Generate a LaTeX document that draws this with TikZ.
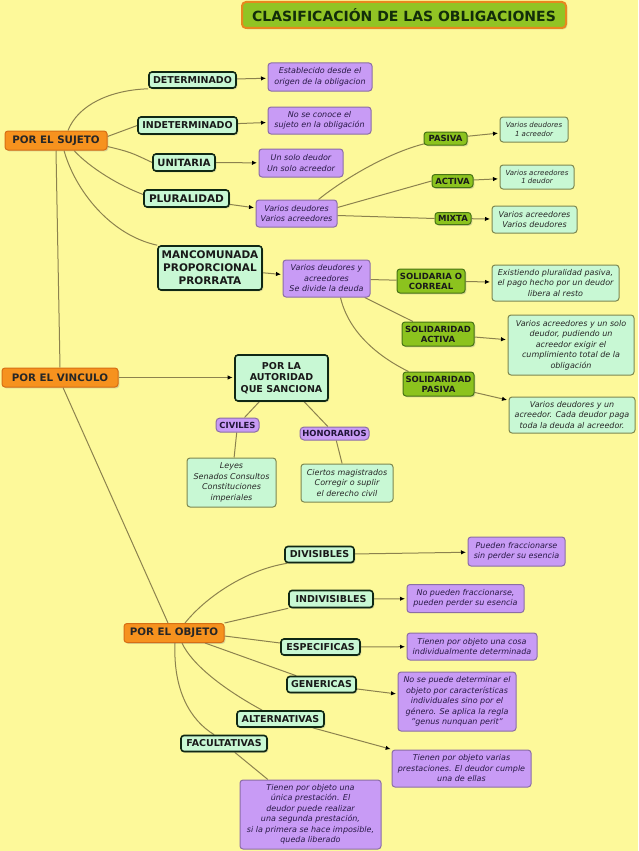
\documentclass[tikz,border=0pt]{standalone}
\usepackage{fontspec}
\setmainfont{DejaVu Sans}
\usetikzlibrary{arrows.meta,calc,shadows}
\definecolor{bgY}{RGB}{253,249,154}
\definecolor{orF}{RGB}{246,146,30}
\definecolor{orD}{RGB}{214,110,20}
\definecolor{mint}{RGB}{200,248,212}
\definecolor{darkL}{RGB}{16,40,20}
\definecolor{grF}{RGB}{140,195,30}
\definecolor{grD}{RGB}{70,115,20}
\definecolor{puF}{RGB}{200,155,245}
\definecolor{puD}{RGB}{140,110,165}
\definecolor{puT}{RGB}{40,25,70}
\definecolor{olD}{RGB}{125,135,80}
\definecolor{lnk}{RGB}{140,130,78}
\definecolor{tiF}{RGB}{145,196,36}
\definecolor{tiD}{RGB}{232,135,30}
\definecolor{tiT}{RGB}{18,45,10}
\pgfdeclarelayer{bglayer}
\pgfdeclarelayer{linklayer}
\pgfsetlayers{bglayer,linklayer,main}
\tikzset{
  sz/.style 2 args={minimum width=#1pt,minimum height=#2pt},
  basebox/.style={rounded corners=3pt, align=center, inner sep=1pt},
  shad/.style={drop shadow={shadow xshift=1.3pt,shadow yshift=-1.3pt,opacity=.3}},
  titlebox/.style={basebox, rounded corners=4pt, fill=tiF, draw=tiD, line width=2pt, text=tiT,
    font=\bfseries\fontsize{14}{16}\selectfont, shad},
  orangebox/.style={basebox, fill=orF, draw=orD, line width=1pt, text=black!85,
    font=\bfseries\fontsize{10.3}{12}\selectfont, shad},
  conc/.style={basebox, fill=mint, draw=darkL, line width=1.6pt, text=black!90,
    font=\bfseries\fontsize{9.5}{11.5}\selectfont, shad},
  grn/.style={basebox, fill=grF, draw=grD, line width=1pt, text=black!90,
    font=\bfseries\fontsize{8.5}{10}\selectfont, shad},
  purp/.style={basebox, fill=puF, draw=puD, line width=1pt, text=puT,
    font=\itshape\fontsize{8}{10.5}\selectfont},
  res/.style={basebox, fill=mint, draw=olD, line width=1pt, text=black!85,
    font=\itshape\fontsize{8}{10.5}\selectfont},
  ressmall/.style={res, font=\itshape\fontsize{7}{8.5}\selectfont},
  plab/.style={basebox, rounded corners=4pt, fill=puF, draw=puD, line width=1pt, text=puT!80!black,
    font=\bfseries\fontsize{8.4}{10}\selectfont},
  link/.style={draw=lnk, line width=1pt},
  arr/.style={link, -{Latex[length=5pt,width=4.5pt,color=black]}, shorten >=1.5pt},
}
\begin{document}
\begin{tikzpicture}[x=1pt,y=-1pt]
\begin{pgfonlayer}{bglayer}
\fill[bgY] (0,0) rectangle (638,851);
\end{pgfonlayer}
\useasboundingbox (0,0) rectangle (638,851);

% title
\node[titlebox, sz={324}{26}] (title) at (404,15) {CLASIFICACIÓN DE LAS OBLIGACIONES};

% main branches
\node[orangebox, sz={102}{19}] (suj) at (56,140.5) {POR EL SUJETO};
\node[orangebox, sz={116}{19}] (vin) at (60,377.5) {POR EL VINCULO};
\node[orangebox, sz={100}{19}] (obj) at (174,633) {POR EL OBJETO};

% sujeto
\node[conc, sz={87}{16}] (det) at (192.5,80) {DETERMINADO};
\node[purp, sz={104}{28}] (estab) at (320,77) {Establecido desde el\\origen de la obligacion};
\node[conc, sz={99}{17}] (indet) at (187.5,125.5) {INDETERMINADO};
\node[purp, sz={103}{27}] (nocon) at (319.5,120.5) {No se conoce el\\sujeto en la obligación};
\node[conc, sz={62}{17}, font=\bfseries\fontsize{10}{12}\selectfont] (unit) at (184,162.5) {UNITARIA};
\node[purp, sz={84}{28}] (unsolo) at (301,163) {Un solo deudor\\Un solo acreedor};
\node[conc, sz={85}{17}, font=\bfseries\fontsize{10.5}{12}\selectfont] (plur) at (186.5,198.5) {PLURALIDAD};
\node[purp, sz={81}{27}] (varios) at (296.5,213.5) {Varios deudores\\Varios acreedores};
\node[grn, sz={43}{13}] (pas) at (445.5,138.5) {PASIVA};
\node[ressmall, sz={68}{25}] (rpas) at (534,129.5) {Varios deudores\\1 acreedor};
\node[grn, sz={41}{13}] (act) at (452.5,181) {ACTIVA};
\node[ressmall, sz={74}{24}] (ract) at (537,177) {Varios acreedores\\1 deudor};
\node[grn, sz={36}{12}] (mix) at (453,218.5) {MIXTA};
\node[res, sz={85}{27}] (rmix) at (534.5,219.5) {Varios acreedores\\Varios deudores};
\node[conc, sz={104}{44}, font=\bfseries\fontsize{10.5}{13}\selectfont] (manc) at (210,268) {MANCOMUNADA\\PROPORCIONAL\\PRORRATA};
\node[purp, sz={87}{37}] (vdy) at (326.5,278.5) {Varios deudores y\\acreedores\\Se divide la deuda};
\node[grn, sz={68}{24}] (corr) at (431,281) {SOLIDARIA O\\CORREAL};
\node[res, sz={127}{36}] (exis) at (555.5,283) {Existiendo pluralidad pasiva,\\el pago hecho por un deudor\\libera al resto};
\node[grn, sz={72}{24}] (sact) at (438,334) {SOLIDARIDAD\\ACTIVA};
\node[res, sz={126}{60}] (vacre) at (571,345) {Varios acreedores y un solo\\deudor, pudiendo un\\acreedor exigir el\\cumplimiento total de la\\obligación};
\node[grn, sz={71}{24}] (spas) at (438.5,384) {SOLIDARIDAD\\PASIVA};
\node[res, sz={126}{36}] (vdeu) at (572,415) {Varios deudores y un\\acreedor. Cada deudor paga\\toda la deuda al acreedor.};

% vinculo
\node[conc, sz={93}{46}] (aut) at (281.5,378) {POR LA\\AUTORIDAD\\QUE SANCIONA};
\node[plab, sz={43}{14}] (civ) at (237.5,425) {CIVILES};
\node[plab, sz={69}{13}] (hon) at (334.5,433.5) {HONORARIOS};
\node[res, sz={89}{49}] (leyes) at (231.5,482.5) {Leyes\\Senados Consultos\\Constituciones\\imperiales};
\node[res, sz={92}{38}] (cier) at (347,483) {Ciertos magistrados\\Corregir o suplir\\el derecho civil};

% objeto
\node[conc, sz={69}{16}] (div) at (319.5,554.5) {DIVISIBLES};
\node[purp, sz={97}{29}] (pued) at (516.5,551.5) {Pueden fraccionarse\\sin perder su esencia};
\node[conc, sz={84}{17}] (ind) at (331,599) {INDIVISIBLES};
\node[purp, sz={117}{28}] (nopu) at (465.5,598.5) {No pueden fraccionarse,\\pueden perder su esencia};
\node[conc, sz={79}{16}] (esp) at (320.5,647) {ESPECIFICAS};
\node[purp, sz={130}{27}] (tcosa) at (472,646.5) {Tienen por objeto una cosa\\individualmente determinada};
\node[conc, sz={69}{16}] (gen) at (321.5,684.5) {GENERICAS};
\node[purp, sz={118}{59}] (nose) at (457,701.5) {No se puede determinar el\\objeto por características\\individuales sino por el\\género. Se aplica la regla\\"genus nunquan perit"};
\node[conc, sz={87}{16}] (alt) at (280.5,719) {ALTERNATIVAS};
\node[purp, sz={139}{37}] (tvar) at (461.5,768.5) {Tienen por objeto varias\\prestaciones. El deudor cumple\\una de ellas};
\node[conc, sz={86}{16}] (fac) at (224,743.5) {FACULTATIVAS};
\node[purp, sz={141}{69}] (tuna) at (310.5,814.5) {Tienen por objeto una\\única prestación. El\\deudor puede realizar\\una segunda prestación,\\si la primera se hace imposible,\\queda liberado};

\begin{pgfonlayer}{linklayer}
% sujeto branch
\draw[link] ($(suj.north)+(12,0)$) .. controls (78,105) and (110,90) .. (det.south west);
\draw[link] ($(suj.east)+(0,-4)$) -- (indet.west);
\draw[link] ($(suj.east)+(0,6)$) .. controls (130,152) .. (unit.west);
\draw[link] ($(suj.south)+(18,0)$) .. controls (90,168) and (120,186) .. ($(plur.west)+(0,-4)$);
\draw[link] ($(suj.south)+(8,0)$) .. controls (75,190) and (110,235) .. (manc.north west);
\draw[link] (suj.south) -- (vin.north);
\draw[link] ($(vin.south)+(3,0)$) -- ($(obj.north)+(-6,0)$);

\draw[arr] (det) -- (estab);
\draw[arr] (indet) -- (nocon);
\draw[arr] (unit) -- (unsolo);
\draw[arr] (plur) -- (varios);
\draw[link] ($(varios.north)+(22,0)$) .. controls (345,178) and (390,152) .. ($(pas.south west)+(2,-2)$);
\draw[link] ($(varios.east)+(0,-6)$) .. controls (385,195) .. (act.west);
\draw[link] ($(varios.east)+(0,2)$) -- (mix.west);
\draw[arr] (pas) -- (rpas);
\draw[arr] (act) -- (ract);
\draw[arr] (mix) -- (rmix);

\draw[arr] (manc) -- (vdy);
\draw[link] (vdy) -- (corr);
\draw[link] (vdy) -- (sact);
\draw[link] ($(vdy.south)+(14,0)$) .. controls (348,330) and (375,355) .. ($(spas.north west)+(6,0)$);
\draw[arr] (corr) -- (exis);
\draw[arr] (sact) -- (vacre);
\draw[arr] (spas) -- (vdeu);

% vinculo branch
\draw[arr] (vin.east) -- (vin.east -| aut.west);
\draw[link] (aut) -- (civ);
\draw[link] (aut) -- (hon);
\draw[link] (civ) -- (leyes);
\draw[link] (hon) -- (cier);

% objeto branch
\draw[link] ($(obj.north)+(11,0)$) .. controls (205,598) and (245,570) .. ($(div.south west)+(3,0)$);
\draw[link] (obj.north east) -- (ind.south west);
\draw[link] ($(obj.east)+(0,3)$) -- ($(esp.west)+(0,-4)$);
\draw[link] ($(obj.south)+(31,0)$) -- ($(gen.north west)+(10,0)$);
\draw[link] ($(obj.south)+(8,0)$) .. controls (192,665) and (225,690) .. ($(alt.north west)+(26,0)$);
\draw[link] ($(obj.south)+(1,0)$) .. controls (173,690) and (190,720) .. ($(fac.north west)+(34,0)$);
\draw[arr] (div) -- (pued);
\draw[arr] (ind) -- (nopu);
\draw[arr] (esp) -- (tcosa);
\draw[arr] (gen) -- (nose);
\draw[arr] (alt) -- (tvar);
\draw[link] (fac) -- (tuna);
\end{pgfonlayer}
\end{tikzpicture}
\end{document}
